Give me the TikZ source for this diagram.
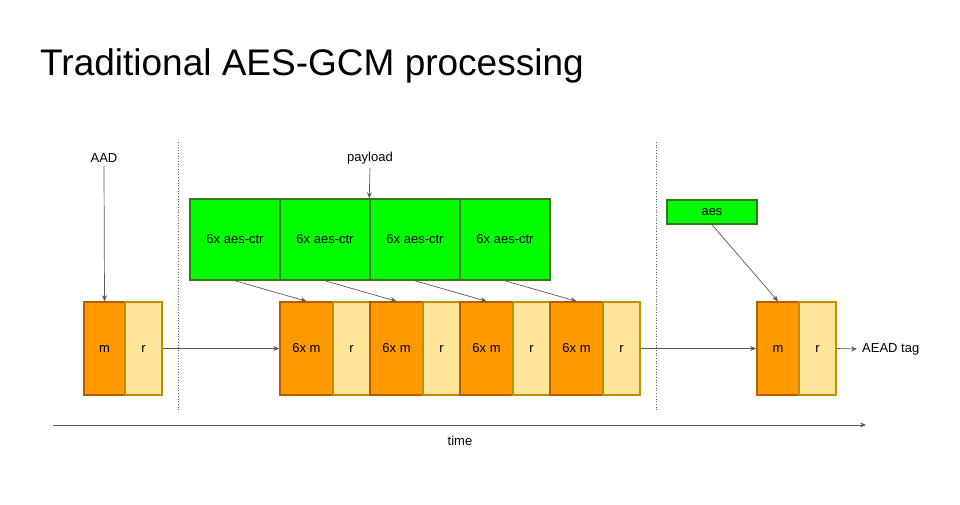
\documentclass[tikz,border=0pt]{standalone}
\usepackage{fontspec}
\setmainfont{Liberation Sans}
\usetikzlibrary{arrows.meta}
\definecolor{og}{HTML}{FF9900}\definecolor{ogd}{HTML}{B45F06}
\definecolor{yl}{HTML}{FFE599}\definecolor{yld}{HTML}{BF9000}
\definecolor{gr}{HTML}{00FF00}\definecolor{grd}{HTML}{38761D}
\definecolor{ln}{HTML}{595959}
\begin{document}
\begin{tikzpicture}[x=1pt,y=-1pt,
 lbl/.style={font=\fontsize{13}{15}\selectfont},
 mbox/.style={draw=ogd,fill=og,line width=1.5pt,minimum height=93pt,inner sep=0pt,font=\fontsize{13}{15}\selectfont},
 rbox/.style={draw=yld,fill=yl,line width=1.5pt,minimum height=93pt,minimum width=37pt,inner sep=0pt,font=\fontsize{13}{15}\selectfont},
 gbox/.style={draw=grd,fill=gr,line width=1.5pt,minimum width=90pt,inner sep=0pt,font=\fontsize{13}{15}\selectfont},
 arr/.style={draw=ln,-{Stealth[length=6pt,width=5pt]},line width=0.7pt},
 dots/.style={draw=ln,dotted,line width=0.7pt}]
\useasboundingbox (0,0) rectangle (960,504);
\node[anchor=base west,inner sep=0pt,font=\fontsize{37}{42}\selectfont] (title) at (40,75) {Traditional AES-GCM processing};
\draw[dots] (178,142) -- (178,410);
\draw[dots] (656,142) -- (656,410);
% left
\node[mbox,minimum width=41pt] (m1) at (104.5,348.5) {m};
\node[rbox] (r1) at (143.5,348.5) {r};
\node[lbl] (aad) at (104,158) {AAD};
\draw[arr] (aad.south) -- (m1.north);
% middle
\foreach \i/\x in {1/280,2/370,3/460,4/550}{
  \node[mbox,minimum width=53pt] (mm\i) at (\x+26.5,348.5) {6x m};
  \node[rbox] (rr\i) at (\x+71.5,348.5) {r};
  \node[gbox,minimum height=81pt] (g\i) at (\x-45,239.5) {6x aes-ctr};
  \draw[arr] (g\i.south) -- (mm\i.north);
}
\node[lbl] (pay) at (370,158) {payload};
\draw[arr] (pay.south) -- (g3.north west);
\draw[arr] (r1.east) -- (mm1.west);
% right
\node[mbox,minimum width=42pt] (m2) at (778,348.5) {m};
\node[rbox] (r2) at (817.5,348.5) {r};
\node[gbox,minimum height=24pt] (aes) at (712,212) {aes};
\draw[arr] (aes.south) -- (m2.north);
\draw[arr] (rr4.east) -- (m2.west);
\node[lbl,anchor=west,inner sep=1pt] (tag) at (861,349) {AEAD tag};
\draw[arr] (r2.east) -- ([xshift=-4pt]tag.west);
% time
\coordinate (t0) at (53,425);
\coordinate (t1) at (866,425);
\draw[arr] (t0) -- (t1);
\node[lbl] (time) at (460,441) {time};
\end{tikzpicture}
\end{document}
